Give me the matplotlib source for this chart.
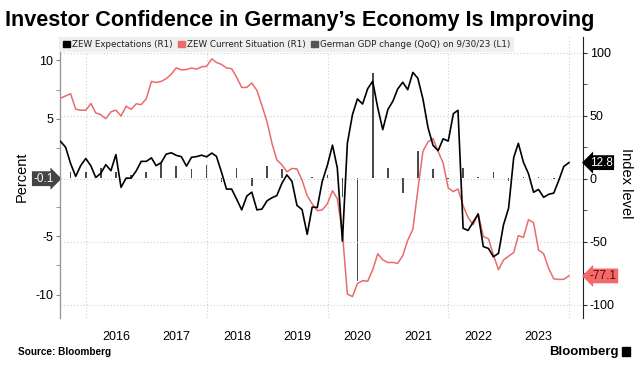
import pandas as pd
import numpy as np
import matplotlib
matplotlib.use('Agg')
import matplotlib.pyplot as plt
import matplotlib.dates as mdates
import matplotlib.transforms as mtrans
from matplotlib.patches import Patch, Rectangle

plt.rcParams['axes.unicode_minus'] = False
plt.rcParams['font.family'] = ['Liberation Sans', 'DejaVu Sans']

# %%
# monthly ZEW survey, Jul 2015 - Dec 2023
zew_expect = [29.7, 25.0, 12.1, 1.9, 10.4, 16.1,
              10.2, 1.0, 4.3, 11.2, 6.4, 19.2, -6.8, 0.5, 0.5, 6.2, 13.8, 13.8,
              16.6, 10.4, 12.8, 19.5, 20.6, 18.6, 17.5, 10.0, 17.0, 17.6, 18.7, 17.4,
              20.4, 17.8, 5.1, -8.2, -8.2, -16.1, -24.7, -13.7, -10.6, -24.7, -24.1, -17.5,
              -15.0, -13.4, -3.6, 3.1, -2.1, -21.1, -24.5, -44.1, -22.5, -22.8, -2.1, 10.7,
              26.7, 8.7, -49.5, 28.2, 51.0, 63.4, 59.3, 71.5, 77.4, 56.1, 39.0, 55.0,
              61.8, 71.2, 76.6, 70.7, 84.4, 79.8, 63.3, 40.4, 26.5, 22.3, 31.7, 29.9,
              51.7, 54.3, -39.3, -41.0, -34.3, -28.0, -53.8, -55.3, -61.9, -59.2, -36.7, -23.3,
              16.9, 28.1, 13.0, 4.1, -10.7, -8.5, -14.7, -12.3, -11.4, -1.1, 9.8, 12.8]

zew_current = [63.9, 65.7, 67.5, 55.2, 54.4, 54.4,
               59.7, 52.3, 50.8, 47.7, 53.1, 54.5, 49.8, 57.6, 55.1, 59.5, 58.8, 63.5,
               77.3, 76.4, 77.3, 79.4, 83.0, 88.0, 86.4, 86.7, 87.9, 87.0, 88.8, 89.3,
               95.2, 92.3, 90.7, 87.9, 87.4, 80.6, 72.4, 72.6, 76.0, 70.1, 58.2, 45.3,
               27.6, 15.0, 11.1, 5.5, 8.2, 7.8, -1.1, -13.5, -19.9, -25.3, -24.7, -19.9,
               -9.5, -15.7, -43.1, -91.5, -93.5, -83.1, -80.9, -81.3, -72.3, -59.5, -64.3, -66.5,
               -66.4, -67.2, -61.0, -48.8, -40.1, -9.1, 21.9, 29.3, 31.9, 21.6, 12.5, -7.4,
               -10.2, -8.1, -21.4, -30.8, -36.5, -27.6, -45.8, -47.6, -60.5, -72.2, -64.5, -61.4,
               -58.6, -45.1, -46.5, -32.5, -34.8, -56.5, -59.5, -71.3, -79.4, -79.9, -79.8, -77.1]

# quarterly German GDP change (QoQ, %), Q3 2015 - Q3 2023
gdp_qoq = [0.5, 0.5,
           0.85, 0.5, 0.25, 0.5,
           1.2, 1.0, 0.7, 1.05,
           -0.42, 0.85, -0.75, 0.95,
           0.75, -0.05, 0.05, 0.2,
           -1.7, -8.8, 8.9, 0.8,
           -1.3, 2.3, 0.75, -0.1,
           0.8, 0.05, 0.45, -0.3,
           0.05, 0.05, -0.1]

year_labels = ['2016', '2017', '2018', '2019', '2020', '2021', '2022', '2023']

months = pd.date_range('2015-07-01', periods=len(zew_expect), freq='MS') + pd.offsets.MonthEnd(0)
quarters = pd.date_range('2015-07-01', periods=len(gdp_qoq), freq='QS') + pd.offsets.QuarterEnd(0)

red = '#ea6b6b'

# %%
fig = plt.figure(figsize=(6.44, 3.77), dpi=100)
ax = fig.add_axes([60/644, 1-318/377, 523/644, 281/377])
ax2 = ax.twinx()

ax.bar(quarters, gdp_qoq, width=10, color='#4a4a4a', zorder=2)
ax2.plot(months, zew_current, color=red, lw=1.1, zorder=3)
ax2.plot(months, zew_expect, color='black', lw=1.2, zorder=4)

ax.set_ylim(-12, 12)
ax2.set_ylim(-110.5, 112.5)
ax.set_xlim(pd.Timestamp('2015-07-28'), pd.Timestamp('2024-03-25'))

# x axis: gridlines every two years, labels mid-year
ax.xaxis.set_major_locator(mdates.YearLocator(2))
ax.xaxis.set_major_formatter(matplotlib.ticker.NullFormatter())
ax.set_xticks([pd.Timestamp(y + '-07-01') for y in year_labels], labels=year_labels, minor=True)
ax.tick_params(axis='x', which='both', length=0, pad=9, labelsize=9)
ax.grid(axis='x', which='major', color='#cfcfcf', ls=(0, (1, 2)), lw=0.8)

# left axis
ax.set_yticks([-10, -5, 0, 5, 10], labels=['-10', '-5', '', '5', '10'])
ax.set_yticks([-7.5, -2.5, 2.5, 7.5], minor=True)
ax.tick_params(axis='y', which='both', length=3, color='#888888', labelsize=9, pad=2)

# right axis
ax2.set_yticks([-100, -50, 0, 50, 100], labels=['-100', '-50', '0', '50', '100'])
ax2.set_yticks([-75, -25, 25, 75], minor=True)
ax2.tick_params(axis='y', which='both', length=3, color='#333333', labelsize=9, pad=2)
ax2.grid(axis='y', which='major', color='#cfcfcf', ls=(0, (1, 2)), lw=0.8)

for a in (ax, ax2):
    a.spines['top'].set_visible(False)
    a.spines['bottom'].set_visible(False)
ax.spines['right'].set_visible(False)
ax2.spines['left'].set_color('#999999')
ax2.spines['right'].set_color('#222222')

# legend
handles = [Patch(color='black'), Patch(color=red), Patch(color='#555555')]
labels = ['ZEW Expectations (R1)', 'ZEW Current Situation (R1)',
          'German GDP change (QoQ) on 9/30/23 (L1)']
leg = ax2.legend(handles, labels, loc='upper left', bbox_to_anchor=(0, 1), ncol=3,
                 fontsize=6.3, handlelength=0.75, handleheight=0.75, handletextpad=0.3,
                 columnspacing=0.6, borderpad=0.35, borderaxespad=0, fancybox=False,
                 facecolor='#efefef', edgecolor='none', framealpha=1)
for t in leg.get_texts():
    t.set_family('DejaVu Sans')
    t.set_color('#222222')

# last value tags
tl = mtrans.blended_transform_factory(ax.transAxes, ax.transData)
ax.text(-0.012, gdp_qoq[-1], str(gdp_qoq[-1]), transform=tl, ha='right', va='center',
        fontsize=8.5, color='white', clip_on=False, zorder=10,
        bbox=dict(boxstyle='rarrow,pad=0.12', fc='#444444', ec='none'))
tr = mtrans.blended_transform_factory(ax2.transAxes, ax2.transData)
ax2.text(1.013, zew_expect[-1], str(zew_expect[-1]), transform=tr, ha='left', va='center',
         fontsize=8.5, color='white', clip_on=False, zorder=10,
         bbox=dict(boxstyle='larrow,pad=0.12', fc='black', ec='none'))
ax2.text(1.013, zew_current[-1], str(zew_current[-1]), transform=tr, ha='left', va='center',
         fontsize=8.5, color='#6e0000', clip_on=False, zorder=10,
         bbox=dict(boxstyle='larrow,pad=0.12', fc='#f26b6b', ec='none'))

# axis titles
fig.text(0.034, 0.53, 'Percent', rotation=90, ha='center', va='center', fontsize=10.5)
fig.text(0.972, 0.515, 'Index level', rotation=270, ha='center', va='center', fontsize=10.5)

# title and footer
fig.text(0.008, 0.945, 'Investor Confidence in Germany\u2019s Economy Is Improving',
         fontsize=15.6, weight='bold', ha='left', va='center')
fig.text(0.028, 0.066, 'Source: Bloomberg', fontsize=7.2, weight='bold', ha='left', va='center')
fig.text(0.961, 0.066, 'Bloomberg', fontsize=9.5, weight='bold', ha='right', va='center')
fig.patches.append(Rectangle((0.966, 0.055), 0.013, 0.024, transform=fig.transFigure,
                             color='black'))

plt.savefig('out.png', dpi=100)
